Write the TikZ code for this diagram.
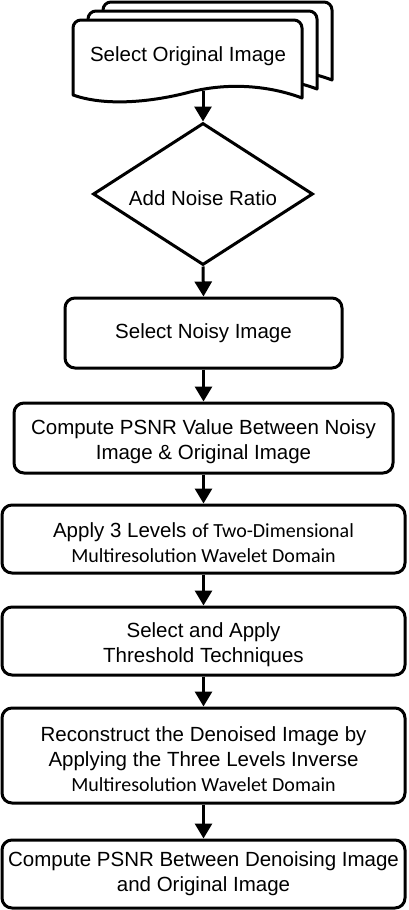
\documentclass[tikz,border=0pt]{standalone}
\usepackage{fontspec}
\setmainfont{Liberation Sans}
\newfontfamily\calib{Carlito}
\usetikzlibrary{arrows.meta,shapes.geometric}
\newcommand{\cb}{\calib\fontsize{20}{25}\selectfont}
\newcommand{\dn}{\rule{0pt}{23pt}}
\begin{document}
\begin{tikzpicture}[x=1pt,y=-1pt,line width=3pt,
  txt/.style={font=\fontsize{20.5}{25}\selectfont},
  box/.style={draw, rounded corners=10pt, minimum width=403pt, minimum height=68pt, inner sep=0pt, align=center, txt},
  arr/.style={-{Triangle[length=15pt,width=17pt]}, line width=3pt},
  docsh/.style={draw, fill=white, line join=round}]
\useasboundingbox (0,0) rectangle (408,910);
% stacked documents
\foreach \dx/\dy in {30/-18,15/-9,0/0}{
  \begin{scope}[shift={(\dx,\dy)}]
    \draw[docsh] (73,95) -- (73,28) arc[start angle=180,end angle=270,radius=8]
      -- (294,20) arc[start angle=270,end angle=360,radius=8]
      -- (302,98) .. controls (270,86) and (230,82) .. (190,92)
      .. controls (160,100) and (110,108) .. (73,95) -- cycle;
  \end{scope}
}
\node[txt] (doc) at (188,56) {Select Original Image};
\coordinate (docb) at (203,91);
\node[draw, diamond, aspect=1.55, minimum width=220pt, minimum height=142pt, inner sep=0pt, txt] (noise) at (203,194) {\dn Add Noise Ratio};
\node[box, minimum width=277pt, minimum height=70pt] (noisy) at (203.5,333) {Select Noisy Image};
\node[box, minimum width=379pt, minimum height=70pt] (psnr1) at (203.5,438) {\dn Compute PSNR Value Between Noisy\\Image \& Original Image};
\node[box] (apply) at (203.5,539) {\dn Apply 3 Levels {\cb of Two-Dimensional}\\{\cb Multiresolution Wavelet Domain}};
\node[box] (thresh) at (203.5,641) {\dn Select and Apply\\Threshold Techniques};
\node[box, minimum height=95pt] (recon) at (203.5,755.5) {\dn Reconstruct the Denoised Image by\\Applying the Three Levels Inverse\\{\cb Multiresolution Wavelet Domain}};
\node[box] (final) at (203.5,874) {Compute PSNR Between Denoising Image\\and Original Image};
\draw[arr] (docb) -- (noise.north);
\draw[arr] (noise.south) -- (noisy.north);
\draw[arr] (noisy.south) -- (psnr1.north);
\draw[arr] (psnr1.south) -- (apply.north);
\draw[arr] (apply.south) -- (thresh.north);
\draw[arr] (thresh.south) -- (recon.north);
\draw[arr] (recon.south) -- (final.north);
\end{tikzpicture}
\end{document}
